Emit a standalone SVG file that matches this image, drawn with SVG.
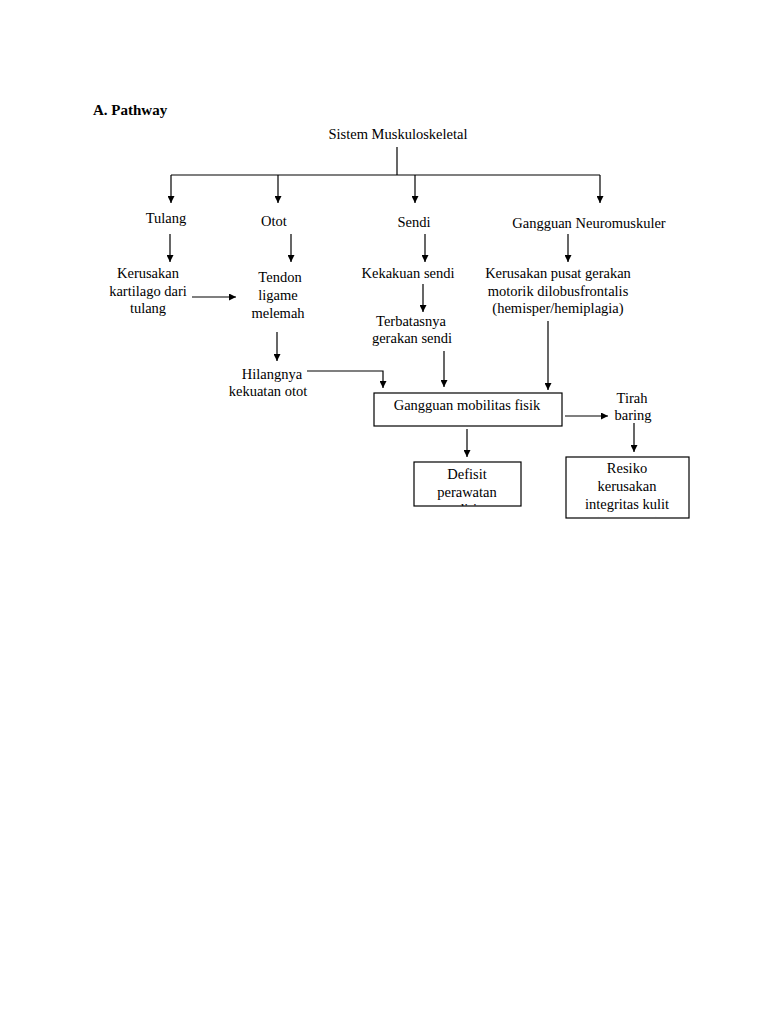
<svg xmlns="http://www.w3.org/2000/svg" width="768" height="1024" viewBox="0 0 768 1024">
<style>
text{font-family:"Liberation Serif","Times New Roman",serif;font-size:14.5px;fill:#000;text-anchor:middle}
.c line,.c polyline{stroke:#000;stroke-width:1.2;fill:none}
.b{fill:#fff;stroke:#000;stroke-width:1.2}
</style>
<defs>
<marker id="a" viewBox="0 0 10 10" refX="10" refY="5" markerWidth="7" markerHeight="7" markerUnits="userSpaceOnUse" orient="auto"><path d="M0,0L10,5L0,10z" fill="#000"/></marker>
<clipPath id="k1"><rect x="414" y="462" width="107" height="44"/></clipPath>
<clipPath id="k2"><rect x="566" y="457" width="123" height="60"/></clipPath>
</defs>
<rect width="768" height="1024" fill="#fff"/>
<text x="93" y="115" style="text-anchor:start;font-weight:bold;font-size:15px">A.  Pathway</text>
<g class="c">
<line x1="397" y1="147" x2="397" y2="175"/>
<line x1="171" y1="175" x2="600" y2="175"/>
<line x1="171" y1="175" x2="171" y2="203" marker-end="url(#a)"/>
<line x1="278" y1="175" x2="278" y2="203" marker-end="url(#a)"/>
<line x1="415" y1="175" x2="415" y2="203" marker-end="url(#a)"/>
<line x1="600" y1="175" x2="600" y2="203" marker-end="url(#a)"/>
<line x1="170" y1="234" x2="170" y2="262" marker-end="url(#a)"/>
<line x1="291" y1="234" x2="291" y2="262" marker-end="url(#a)"/>
<line x1="425" y1="234" x2="425" y2="262" marker-end="url(#a)"/>
<line x1="568" y1="234" x2="568" y2="262" marker-end="url(#a)"/>
<line x1="192" y1="297" x2="236" y2="297" marker-end="url(#a)"/>
<line x1="423" y1="284" x2="423" y2="312" marker-end="url(#a)"/>
<line x1="277" y1="332" x2="277" y2="361" marker-end="url(#a)"/>
<polyline points="307,371 383,371 383,388" marker-end="url(#a)"/>
<line x1="444" y1="351" x2="444" y2="387" marker-end="url(#a)"/>
<line x1="548" y1="321" x2="548" y2="390" marker-end="url(#a)"/>
<line x1="565" y1="416" x2="608" y2="416" marker-end="url(#a)"/>
<line x1="634" y1="423" x2="634" y2="452" marker-end="url(#a)"/>
<line x1="467" y1="429" x2="467" y2="457" marker-end="url(#a)"/>
</g>
<g id="root"><text x="398" y="139">Sistem Muskuloskeletal</text></g>
<g id="tulang"><text x="166" y="223">Tulang</text></g>
<g id="otot"><text x="274" y="226">Otot</text></g>
<g id="sendi"><text x="414" y="227">Sendi</text></g>
<g id="neuro"><text x="589" y="228">Gangguan Neuromuskuler</text></g>
<g id="kerusakan"><text x="148" y="278">Kerusakan</text><text x="148" y="296">kartilago dari</text><text x="148" y="313">tulang</text></g>
<g id="tendon"><text x="280" y="282">Tendon</text><text x="278" y="300">ligame</text><text x="278" y="318">melemah</text></g>
<g id="kekakuan"><text x="408" y="278">Kekakuan sendi</text></g>
<g id="pusat"><text x="558" y="278">Kerusakan pusat gerakan</text><text x="558" y="296">motorik dilobusfrontalis</text><text x="558" y="313">(hemisper/hemiplagia)</text></g>
<g id="terbatas"><text x="411" y="326">Terbatasnya</text><text x="412" y="343">gerakan sendi</text></g>
<g id="hilang"><text x="272" y="379">Hilangnya</text><text x="268" y="396">kekuatan otot</text></g>
<g id="mobilitas"><rect class="b" x="374" y="393" width="188" height="33"/><text x="467" y="410">Gangguan mobilitas fisik</text></g>
<g id="tirah"><text x="632" y="403">Tirah</text><text x="633" y="420">baring</text></g>
<g id="defisit"><rect class="b" x="414" y="462" width="107" height="44"/><g clip-path="url(#k1)"><text x="467" y="479">Defisit</text><text x="467" y="497">perawatan</text><text x="467" y="514">diri</text></g></g>
<g id="resiko"><rect class="b" x="566" y="457" width="123" height="61"/><g clip-path="url(#k2)"><text x="627" y="473">Resiko</text><text x="627" y="491">kerusakan</text><text x="627" y="509">integritas kulit</text><text x="627" y="527">(dekubitus)</text></g></g>
</svg>
